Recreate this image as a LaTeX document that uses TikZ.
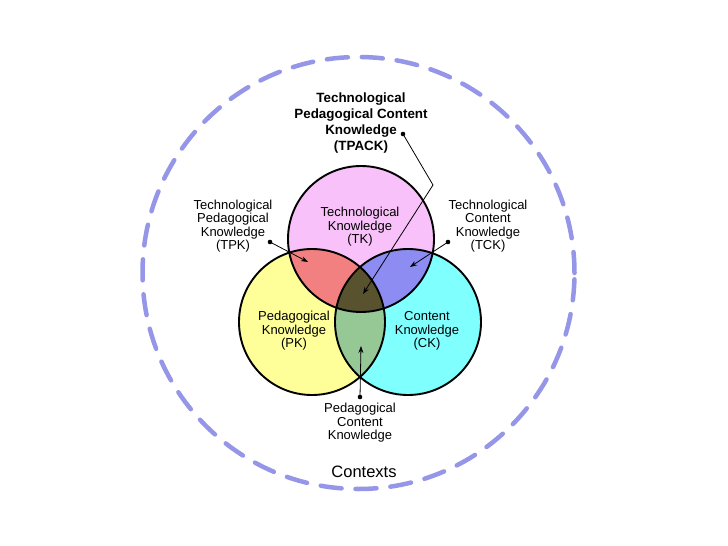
\documentclass[tikz,border=0pt]{standalone}
\usepackage{fontspec}
\setmainfont{Liberation Sans}
\usetikzlibrary{arrows.meta}
\definecolor{tkc}{RGB}{249,193,249}
\definecolor{pkc}{RGB}{255,255,153}
\definecolor{ckc}{RGB}{128,255,255}
\definecolor{tpkc}{RGB}{242,128,128}
\definecolor{tckc}{RGB}{140,140,242}
\definecolor{pckc}{RGB}{150,200,150}
\definecolor{allc}{RGB}{88,82,46}
\definecolor{ctxc}{RGB}{150,150,232}
\begin{document}
\begin{tikzpicture}[x=1pt,y=-1pt,
  lbl/.style={align=center,inner sep=0pt,font=\fontsize{13}{13.4}\selectfont},
  blbl/.style={align=center,inner sep=0pt,font=\fontsize{13.4}{16}\selectfont\bfseries},
  dotn/.style={circle,fill=black,inner sep=0pt,minimum size=4.6pt},
  arr/.style={line width=0.8pt,-{Stealth[length=7pt,width=5pt]}},
  ring/.style={line width=1.9pt,draw=black}]
\useasboundingbox (0,0) rectangle (728,546);
\fill[white] (0,0) rectangle (728,546);
% outer context circle
\coordinate (O) at (358.5,273);
\draw[ctxc,line width=4.5pt,line cap=round,dash pattern=on 21pt off 14pt] (O) circle[radius=216pt];
% circle centres
\coordinate (T) at (361,239);
\coordinate (P) at (312,322);
\coordinate (C) at (408,322);
\fill[tkc] (T) circle[radius=73pt];
\fill[pkc] (P) circle[radius=73pt];
\fill[ckc] (C) circle[radius=73pt];
\begin{scope}\clip (T) circle[radius=73pt];\fill[tpkc] (P) circle[radius=73pt];\end{scope}
\begin{scope}\clip (T) circle[radius=73pt];\fill[tckc] (C) circle[radius=73pt];\end{scope}
\begin{scope}\clip (P) circle[radius=73pt];\fill[pckc] (C) circle[radius=73pt];\end{scope}
\begin{scope}\clip (T) circle[radius=73pt];\clip (P) circle[radius=73pt];\fill[allc] (C) circle[radius=73pt];\end{scope}
\draw[ring] (T) circle[radius=73pt];
\draw[ring] (P) circle[radius=73pt];
\draw[ring] (C) circle[radius=73pt];
% texts
\node[blbl] (tpack) at (361,123.5) {Technological\\Pedagogical Content\\Knowledge\\(TPACK)};
\node[lbl] (tpk) at (233,226) {Technological\\Pedagogical\\Knowledge\\(TPK)};
\node[lbl] (tck) at (488,226) {Technological\\Content\\Knowledge\\(TCK)};
\node[lbl] (tk) at (360,227) {Technological\\Knowledge\\(TK)};
\node[lbl] (pk) at (294,331) {Pedagogical\\Knowledge\\(PK)};
\node[lbl] (ck) at (427,331) {Content\\Knowledge\\(CK)};
\node[lbl] (pck) at (360,423) {Pedagogical\\Content\\Knowledge};
\node[inner sep=0pt,font=\fontsize{16.5}{18}\selectfont] (ctx) at (364,472) {Contexts};
% connectors
\node[dotn] (tpackdot) at (403,134) {};
\coordinate (tpackbend) at (433,185);
\coordinate (tpacktip) at (363,294);
\draw[arr] (tpackdot.center) -- (tpackbend) -- (tpacktip);
\node[dotn] (tpkdot) at (270,242) {};
\coordinate (tpktip) at (308,262);
\draw[arr] (tpkdot.center) -- (tpktip);
\node[dotn] (tckdot) at (448,242) {};
\coordinate (tcktip) at (410,267);
\draw[arr] (tckdot.center) -- (tcktip);
\node[dotn] (pckdot) at (360,397) {};
\coordinate (pcktip) at (361,346);
\draw[arr] (pckdot.center) -- (pcktip);
\end{tikzpicture}
\end{document}
